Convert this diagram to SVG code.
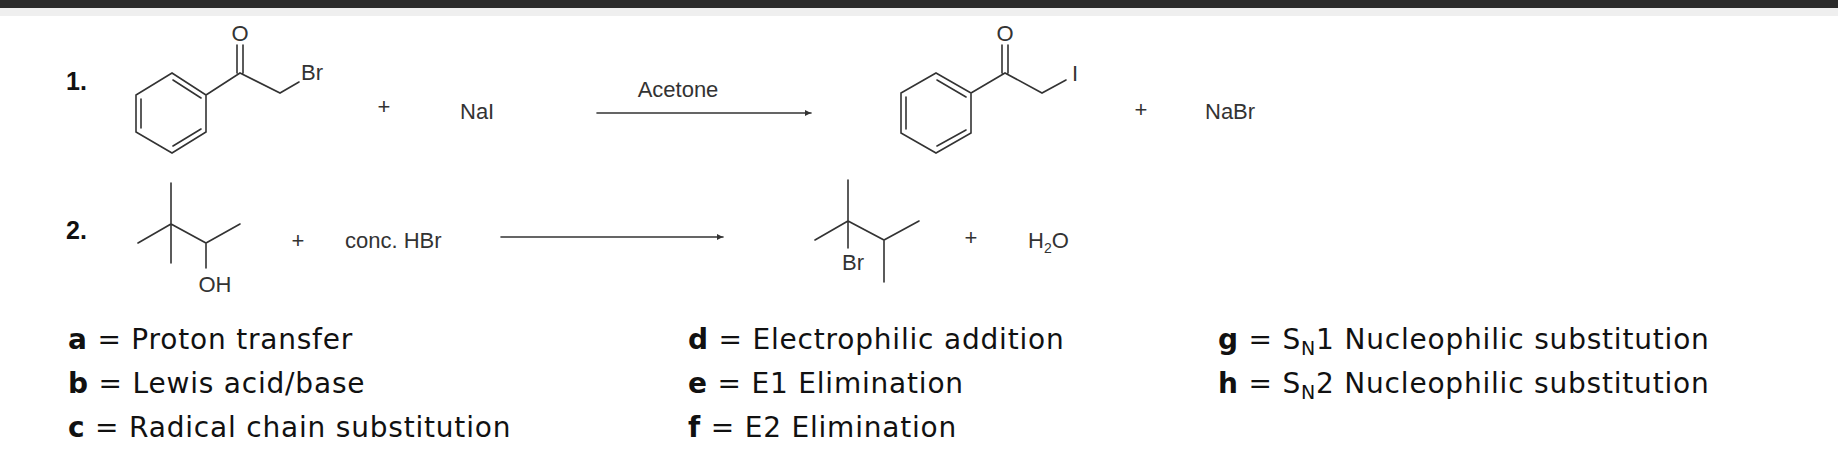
<svg xmlns="http://www.w3.org/2000/svg" width="1838" height="468" viewBox="0 0 1838 468">
<style>
.b{stroke:#333;stroke-width:1.6;fill:none;stroke-linecap:round}
.ch{font-family:"Liberation Sans",Arial,sans-serif;font-size:22px;fill:#333}
.num{font-family:"Liberation Sans",Arial,sans-serif;font-size:25px;font-weight:bold;fill:#111}
.lg{font-family:"DejaVu Sans",sans-serif;font-size:28px;letter-spacing:0.8px;fill:#111}
.lg tspan.k{font-weight:bold}
</style>
<defs><marker id="ah" viewBox="0 0 10 10" refX="10" refY="5" markerWidth="10" markerHeight="6" markerUnits="userSpaceOnUse" orient="auto"><path d="M0,0L10,5L0,10z" fill="#333"/></marker></defs>
<rect width="1838" height="468" fill="#fff"/>
<rect width="1838" height="8" fill="#2b2b2b"/>
<rect y="8" width="1838" height="8" fill="#efefef"/>
<text class="num" x="66" y="90">1.</text>
<text class="num" x="66" y="239">2.</text>
<g id="reactant1">
<path class="b" d="M172,73L206,95L206,132L172,153L136,132L136,95Z M141,99L141,128 M173,80L201,98 M173,146L201,129 M206,95L240,73L280,93L299,82 M237,73L237,45 M243,73L243,45"/>
<text class="ch" x="240" y="41" text-anchor="middle">O</text>
<text class="ch" x="301" y="80">Br</text>
</g>
<text class="ch" x="384" y="114" text-anchor="middle">+</text>
<g id="nai"><text class="ch" x="460" y="119">NaI</text></g>
<g id="product1">
<path class="b" d="M936,73L971,93L971,133L936,153L901,133L901,93Z M906,97L906,129 M937,80L966,97 M937,146L966,130 M971,93L1005,73L1042,93L1066,80 M1002,73L1002,45 M1008,73L1008,45"/>
<text class="ch" x="1005" y="41" text-anchor="middle">O</text>
<text class="ch" x="1072" y="81">I</text>
</g>
<text class="ch" x="1141" y="117" text-anchor="middle">+</text>
<g id="nabr"><text class="ch" x="1205" y="119">NaBr</text></g>
<g id="reactant2">
<path class="b" d="M171,183L171,263 M138,243L171,224L206,243L240,224 M206,243L206,268"/>
<text class="ch" x="215" y="292" text-anchor="middle">OH</text>
</g>
<text class="ch" x="298" y="248" text-anchor="middle">+</text>
<g id="hbr"><text class="ch" x="345" y="248">conc. HBr</text></g>
<g id="product2">
<path class="b" d="M848,180L848,248 M815,240L848,221L884,240L919,221 M884,240L884,282"/>
<text class="ch" x="853" y="270" text-anchor="middle">Br</text>
</g>
<text class="ch" x="971" y="245" text-anchor="middle">+</text>
<g id="h2o"><text class="ch" x="1028" y="248">H<tspan font-size="14" dy="5">2</tspan><tspan dy="-5">O</tspan></text></g>
<g id="connectors">
<line class="b" x1="597" y1="113" x2="811" y2="113" marker-end="url(#ah)"/>
<text class="ch" x="678" y="97" text-anchor="middle">Acetone</text>
<line class="b" x1="501" y1="237" x2="723" y2="237" marker-end="url(#ah)"/>
</g>
<g id="legend">
<text class="lg" x="68" y="349"><tspan class="k">a</tspan> = Proton transfer</text>
<text class="lg" x="68" y="393"><tspan class="k">b</tspan> = Lewis acid/base</text>
<text class="lg" x="68" y="437"><tspan class="k">c</tspan> = Radical chain substitution</text>
<text class="lg" x="688" y="349"><tspan class="k">d</tspan> = Electrophilic addition</text>
<text class="lg" x="688" y="393"><tspan class="k">e</tspan> = E1 Elimination</text>
<text class="lg" x="688" y="437"><tspan class="k">f</tspan> = E2 Elimination</text>
<text class="lg" x="1218" y="349"><tspan class="k">g</tspan> = S<tspan font-size="19" dy="6">N</tspan><tspan dy="-6">1 Nucleophilic substitution</tspan></text>
<text class="lg" x="1218" y="393"><tspan class="k">h</tspan> = S<tspan font-size="19" dy="6">N</tspan><tspan dy="-6">2 Nucleophilic substitution</tspan></text>
</g>
</svg>
